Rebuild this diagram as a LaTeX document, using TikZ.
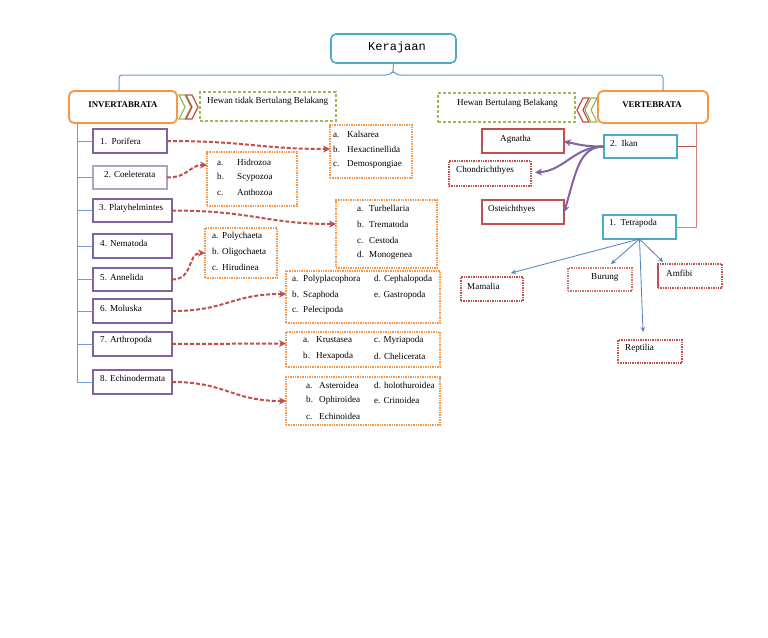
\documentclass[tikz,border=0pt]{standalone}
\usepackage{fontspec}
\setmainfont{Liberation Serif}
\newfontfamily\monof{Liberation Mono}
\usetikzlibrary{arrows.meta}
\definecolor{cblue}{RGB}{75,172,198}
\definecolor{lblue}{RGB}{110,155,210}
\definecolor{ablue}{RGB}{79,129,189}
\definecolor{corange}{RGB}{247,150,70}
\definecolor{cgreen}{RGB}{155,187,89}
\definecolor{cred}{RGB}{192,80,77}
\definecolor{cpurple}{RGB}{128,100,162}
\definecolor{lpurple}{RGB}{178,161,199}
\definecolor{pinkred}{RGB}{212,130,130}
\tikzset{
  box/.style={draw, anchor=north west, inner sep=0pt, outer sep=0pt},
  txt/.style={anchor=west, inner sep=0pt, font=\fontsize{9.1}{10}\selectfont},
  pbox/.style={box, draw=cpurple, line width=1.4pt},
  obox/.style={box, draw=corange, line width=1.4pt, densely dotted},
  gbox/.style={box, draw=cgreen, line width=1.5pt, dash pattern=on 3pt off 2pt},
  rbox/.style={box, draw=cred, line width=1.3pt},
  rdbox/.style={box, draw=cred, line width=1.4pt, densely dotted},
  conn/.style={draw=lblue, line width=1pt},
  rarrow/.style={draw=cred, line width=2pt, dash pattern=on 4pt off 2pt, -{Stealth[length=7pt,width=7pt]}},
  parrow/.style={draw=cpurple, line width=2pt, -{Stealth[length=7pt,width=7pt]}},
  barrow/.style={draw=ablue, line width=0.8pt, -{Stealth[length=5pt,width=4.5pt]}},
}
\begin{document}
\begin{tikzpicture}[x=1pt,y=-1pt]
\useasboundingbox (0,0) rectangle (768,637);
\fill[white] (0,0) rectangle (768,637);

% top boxes
\node[box, draw=cblue, line width=1.6pt, rounded corners=5pt, minimum width=125pt, minimum height=29pt] (ker) at (331,34) {};
\node[anchor=center, inner sep=0pt, font=\monof\fontsize{12}{14}\selectfont] (kert) at (397,47) {Kerajaan};
\node[box, draw=corange, line width=1.8pt, rounded corners=5pt, minimum width=108pt, minimum height=32pt] (inv) at (69,91) {};
\node[anchor=center, inner sep=0pt, font=\bfseries\fontsize{8.8}{10}\selectfont] (invt) at (123,105) {INVERTABRATA};
\node[box, draw=corange, line width=1.8pt, rounded corners=5pt, minimum width=110pt, minimum height=32pt] (vert) at (598,91) {};
\node[anchor=center, inner sep=0pt, font=\bfseries\fontsize{8.8}{10}\selectfont] (vertt) at (652,105) {VERTEBRATA};
\node[gbox, minimum width=136pt, minimum height=29pt] (htb) at (200,92) {};
\node[txt] (htbt) at (207,101) {Hewan tidak Bertulang Belakang};
\node[gbox, minimum width=137pt, minimum height=29pt] (hbb) at (438,93) {};
\node[txt] (hbbt) at (457,103) {Hewan Bertulang Belakang};

% chevrons
\draw[cgreen, line width=1.3pt, fill=white] (179,95) -- (185,95) -- (191,107) -- (185,119) -- (179,119) -- (185,107) -- cycle;
\draw[cred, line width=1.3pt, fill=white] (186,95) -- (192,95) -- (198,107) -- (192,119) -- (186,119) -- (192,107) -- cycle;
\draw[cgreen, line width=1.3pt, fill=white] (597,98) -- (591,98) -- (585,110) -- (591,122) -- (597,122) -- (591,110) -- cycle;
\draw[cred, line width=1.3pt, fill=white] (589,98) -- (583,98) -- (577,110) -- (583,122) -- (589,122) -- (583,110) -- cycle;

% kerajaan connector
\coordinate (kl) at (119,75);
\coordinate (kr) at (663,75);
\coordinate (kb1) at (389,75);
\coordinate (kb2) at (393,71);
\coordinate (kb3) at (397,75);
\draw[conn, rounded corners=3pt] (inv.north -| kl) -- (kl) -- (kb1) -- (kb2) -- (kb3) -- (kr) -- (vert.north -| kr);
\draw[conn] (kb2) -- (ker.south);

% left boxes
\node[pbox, minimum width=74pt, minimum height=24pt] (por) at (93,129) {};
\node[pbox, draw=lpurple, minimum width=74pt, minimum height=23pt] (coe) at (93,166) {};
\node[pbox, line width=1.8pt, minimum width=79pt, minimum height=23pt] (pla) at (93,199) {};
\node[pbox, minimum width=79pt, minimum height=24pt] (nem) at (93,234) {};
\node[pbox, line width=1.7pt, minimum width=79pt, minimum height=23pt] (ann) at (93,268) {};
\node[pbox, line width=1.7pt, minimum width=79pt, minimum height=24pt] (mol) at (93,299) {};
\node[pbox, minimum width=79pt, minimum height=24pt] (art) at (93,332) {};
\node[pbox, line width=1.7pt, minimum width=79pt, minimum height=24pt] (ech) at (93,370) {};
\node[txt] (port) at (100,141) {1.\ \ Porifera};
\node[txt] (coet) at (104,174) {2. Coeleterata};
\node[txt] (plat) at (99,208) {3. Platyhelmintes};
\node[txt] (nemt) at (100,243) {4. Nematoda};
\node[txt] (annt) at (100,277) {5. Annelida};
\node[txt] (molt) at (100,308) {6. Moluska};
\node[txt] (artt) at (100,340) {7. Arthropoda};
\node[txt] (echt) at (100,378) {8. Echinodermata};

% trunk
\coordinate (tr) at (77,0);
\draw[conn] (inv.south -| tr) -- (ech.west -| tr);
\foreach \n in {por,coe,pla,nem,ann,mol,art,ech}{
  \draw[conn] (\n.west -| tr) -- (\n.west);
}

% orange lists
\node[obox, minimum width=82pt, minimum height=53pt] (kal) at (330,125) {};
\node[txt] (k1) at (333,134) {\makebox[14pt][l]{a.}Kalsarea};
\node[txt] (k2) at (333,149) {\makebox[14pt][l]{b.}Hexactinellida};
\node[txt] (k3) at (333,164) {\makebox[14pt][l]{c.}Demospongiae};

\node[obox, minimum width=90pt, minimum height=54pt] (hid) at (207,152) {};
\node[txt] (h1) at (217,162) {\makebox[20pt][l]{a.}Hidrozoa};
\node[txt] (h2) at (217,177) {\makebox[20pt][l]{b.}Scypozoa};
\node[txt] (h3) at (217,192) {\makebox[20pt][l]{c.}Anthozoa};

\node[obox, minimum width=101pt, minimum height=68pt] (tur) at (336,200) {};
\node[txt] (t1) at (357,208) {\makebox[12pt][l]{a.}Turbellaria};
\node[txt] (t2) at (357,224) {\makebox[12pt][l]{b.}Trematoda};
\node[txt] (t3) at (357,240) {\makebox[12pt][l]{c.}Cestoda};
\node[txt] (t4) at (357,255) {\makebox[12pt][l]{d.}Monogenea};

\node[obox, minimum width=72pt, minimum height=50pt] (pol) at (205,228) {};
\node[txt] (p1) at (212,236) {\makebox[10pt][l]{a.}Polychaeta};
\node[txt] (p2) at (212,252) {\makebox[10pt][l]{b.}Oligochaeta};
\node[txt] (p3) at (212,267) {\makebox[10pt][l]{c.}Hirudinea};

\node[obox, minimum width=154pt, minimum height=52pt] (ply) at (286,271) {};
\node[txt] (y1) at (292,279) {\makebox[11pt][l]{a.}Polyplacophora};
\node[txt] (y2) at (292,295) {\makebox[11pt][l]{b.}Scaphoda};
\node[txt] (y3) at (292,310) {\makebox[11pt][l]{c.}Pelecipoda};
\node[txt] (y4) at (374,279) {d. Cephalopoda};
\node[txt] (y5) at (374,295) {e. Gastropoda};

\node[obox, minimum width=154pt, minimum height=35pt] (kru) at (286,332) {};
\node[txt] (r1) at (303,340) {\makebox[13pt][l]{a.}Krustasea};
\node[txt] (r2) at (303,356) {\makebox[13pt][l]{b.}Hexapoda};
\node[txt] (r3) at (374,340) {c. Myriapoda};
\node[txt] (r4) at (374,356) {d. Chelicerata};

\node[obox, minimum width=154pt, minimum height=48pt] (ast) at (286,377) {};
\node[txt] (s1) at (306,385) {\makebox[13pt][l]{a.}Asteroidea};
\node[txt] (s2) at (306,400) {\makebox[13pt][l]{b.}Ophiroidea};
\node[txt] (s3) at (306,416) {\makebox[13pt][l]{c.}Echinoidea};
\node[txt] (s4) at (374,385) {d. holothuroidea};
\node[txt] (s5) at (374,400) {e. Crinoidea};

% red dashed arrows
\draw[rarrow] (por.east) .. controls +(80,0) and +(-70,0) .. ([yshift=2.5pt]kal.west);
\draw[rarrow] (coe.east) .. controls +(22,0) and +(-18,0) .. ([yshift=14pt]hid.west);
\draw[rarrow] (pla.east) .. controls +(80,0) and +(-70,0) .. ([yshift=10pt]tur.west);
\draw[rarrow] (ann.east) .. controls +(22,0) and +(-18,0) .. (pol.west);
\draw[rarrow] (mol.east) .. controls +(55,0) and +(-55,0) .. ([yshift=3pt]ply.west);
\draw[rarrow] (art.east) -- ([yshift=6pt]kru.west);
\draw[rarrow] (ech.east) .. controls +(55,0) and +(-55,0) .. (ast.west);

% right side
\node[box, draw=cblue, line width=1.5pt, minimum width=73pt, minimum height=23pt] (ikan) at (604,135) {};
\node[txt] (ikant) at (610,143) {2.\ \ Ikan};
\node[box, draw=cblue, line width=2pt, minimum width=73pt, minimum height=24pt] (tet) at (603,215) {};
\node[txt] (tett) at (609,223) {1.\ \ Tetrapoda};
\coordinate (rv) at (696,0);
\draw[pinkred, line width=1pt] (vert.south -| rv) -- (tet.east -| rv) -- (tet.east);
\draw[cred, line width=1pt] (ikan.east) -- (ikan.east -| rv);

\node[rbox, minimum width=82pt, minimum height=24pt] (agn) at (482,129) {};
\node[txt] (agnt) at (500,139) {Agnatha};
\node[rdbox, minimum width=82pt, minimum height=25pt] (cho) at (449,161) {};
\node[txt] (chot) at (456,170) {Chondrichthyes};
\node[rbox, minimum width=82pt, minimum height=24pt] (ost) at (482,200) {};
\node[txt] (ostt) at (488,209) {Osteichthyes};

\draw[parrow] (ikan.west) .. controls +(-20,0) and +(15,3) .. ([yshift=-0.5pt]agn.east);
\draw[parrow] (ikan.west) .. controls +(-30,0) and +(30,-2) .. ([xshift=4pt,yshift=1pt]cho.east);
\draw[parrow] (ikan.west) .. controls +(-25,0) and +(12,-40) .. ([yshift=-0.5pt]ost.east);

\node[rdbox, line width=1.8pt, minimum width=62pt, minimum height=24pt] (mam) at (461,277) {};
\node[txt] (mamt) at (467,286) {Mamalia};
\node[rdbox, draw=cred!80, minimum width=64pt, minimum height=23pt] (bur) at (568,268) {};
\node[txt] (burt) at (591,277) {Burung};
\node[rdbox, minimum width=64pt, minimum height=24pt] (amf) at (658,264) {};
\draw[cred, line width=2pt] (amf.north west) -- (amf.south west);
\node[txt] (amft) at (666,273) {Amfibi};
\node[rdbox, minimum width=64pt, minimum height=23pt] (rep) at (618,340) {};
\node[txt] (rept) at (625,348) {Reptilia};

\draw[barrow] (tet.south) -- ([xshift=19pt,yshift=4pt]mam.north);
\draw[barrow] (tet.south) -- ([xshift=11pt,yshift=4pt]bur.north);
\draw[barrow] (tet.south) -- ([xshift=5pt,yshift=2pt]amf.north west);
\draw[barrow] (tet.south) -- ([xshift=-7pt,yshift=8pt]rep.north);
\end{tikzpicture}
\end{document}
